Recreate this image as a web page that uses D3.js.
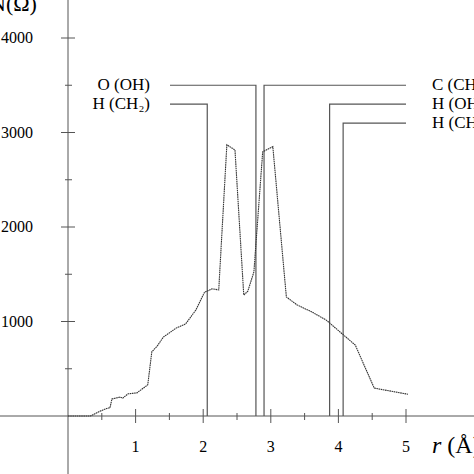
<!DOCTYPE html><html><head><meta charset="utf-8"><script src="https://cdn.jsdelivr.net/npm/d3@7"></script>
<style>body{margin:0;background:#fff}svg{display:block}</style></head><body><svg id="c" width="474" height="474"></svg>
<script>
const rVals=[0,0.33,0.47,0.59,0.62,0.65,0.77,0.81,0.89,1.02,1.18,1.24,1.32,1.41,1.48,1.6,1.74,1.89,2.02,2.13,2.23,2.35,2.47,2.6,2.66,2.75,2.88,3.03,3.23,3.39,3.61,3.82,4.25,4.53,5.03];
const nVals=[0,0,50,85,85,180,200,190,235,245,330,680,740,835,870,930,975,1120,1310,1345,1335,2870,2815,1280,1320,1525,2795,2850,1260,1175,1100,1015,750,295,230];
const markerLabels=["O (OH)","H (CH\u2082)","C (CH\u2082)","H (OH)","H (CH\u2083)"];
const markerR=[2.78,2.06,2.90,3.87,4.07];
const markerN=[3500,3300,3500,3300,3100];
const markerSide=["left","left","right","right","right"];
const yTicks=[1000,2000,3000,4000];
const xTicks=[1,2,3,4,5];
const svg=d3.select("#c");
const x=d3.scaleLinear().domain([0,5]).range([68,406]);
const y=d3.scaleLinear().domain([0,4000]).range([416,38]);
const g="#555",font="Liberation Serif";
svg.append("line").attr("x1",x(0)).attr("x2",x(0)).attr("y1",0).attr("y2",474).attr("stroke",g);
svg.append("line").attr("x1",0).attr("x2",474).attr("y1",y(0)).attr("y2",y(0)).attr("stroke",g);
d3.range(500,4500,500).forEach(v=>{const maj=v%1000===0;
 svg.append("line").attr("x1",x(0)-(maj?7:3)).attr("x2",x(0)+(maj?7:4)).attr("y1",y(v)).attr("y2",y(v)).attr("stroke",g);});
d3.range(0.5,5.5,0.5).forEach(v=>{const maj=Number.isInteger(v);
 svg.append("line").attr("x1",x(v)).attr("x2",x(v)).attr("y1",y(0)-(maj?7:3)).attr("y2",y(0)+(maj?7:4)).attr("stroke",g);});
yTicks.forEach(v=>svg.append("text").attr("x",33).attr("y",y(v)+5).attr("text-anchor","end").attr("font-family",font).attr("font-size",16).text(v));
xTicks.forEach(v=>svg.append("text").attr("x",x(v)).attr("y",452).attr("text-anchor","middle").attr("font-family",font).attr("font-size",16).text(v));
svg.append("text").attr("x",-10).attr("y",11).attr("font-family",font).attr("font-size",22).text("N(Ω)");
svg.append("text").attr("x",432).attr("y",453).attr("font-family",font).attr("font-size",24).html('<tspan font-style="italic">r</tspan> (Å)');
markerR.forEach((r,i)=>{const left=markerSide[i]==="left";
 const pts=left?[[170,y(markerN[i])],[x(r),y(markerN[i])],[x(r),y(0)]]:[[x(r),y(0)],[x(r),y(markerN[i])],[x(5),y(markerN[i])]];
 svg.append("path").attr("d",d3.line()(pts)).attr("fill","none").attr("stroke",g).attr("stroke-width",1.2);
 svg.append("text").attr("x",left?150:432).attr("y",y(markerN[i])+5).attr("text-anchor",left?"end":"start").attr("font-family",font).attr("font-size",17).text(markerLabels[i]);});
svg.append("path").datum(rVals.map((r,i)=>[r,nVals[i]])).attr("d",d3.line().x(d=>x(d[0])).y(d=>y(d[1]))).attr("fill","none").attr("stroke","#333").attr("stroke-width",1.1).attr("stroke-dasharray","1.6,0.6");
</script></body></html>
